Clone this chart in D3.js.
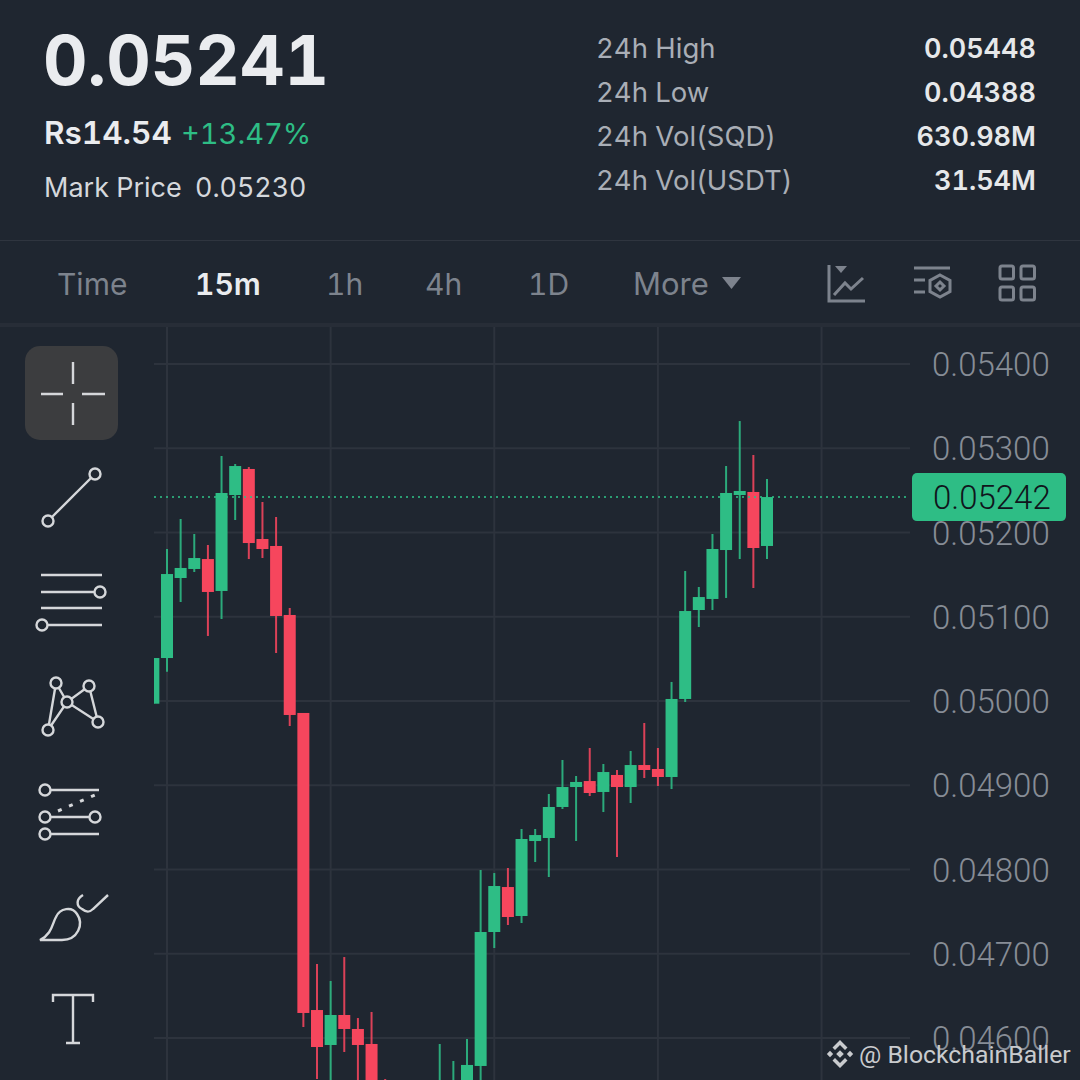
<!DOCTYPE html>
<html><head><meta charset="utf-8">
<script src="https://cdn.jsdelivr.net/npm/d3@7/dist/d3.min.js"></script>
<style>html,body{margin:0;padding:0;background:#1f2630;overflow:hidden}svg{display:block}text{font-variant-numeric:tabular-nums}</style>
</head><body><svg id="c" width="1080" height="1080"></svg>
<script>
// Prices in thousandths of a unit; null = candle lies wholly below the visible frame
const candleIndex = d3.range(0, 46);
const opens = [49.968,50.510,51.460,51.567,51.685,51.306,52.445,52.754,51.923,51.840,51.021,49.858,46.332,45.917,46.273,46.107,45.929,45.300,null,null,null,44.900,45.000,45.200,45.668,47.258,47.792,47.448,48.338,48.374,48.742,48.979,49.050,48.920,49.122,48.979,49.240,49.193,49.098,50.024,51.080,51.211,51.792,52.445,52.481,51.840];
const closes = [50.510,51.507,51.579,51.697,51.294,52.469,52.789,51.875,51.804,51.009,49.834,46.297,45.893,46.273,46.107,45.917,45.323,45.100,null,null,null,45.200,45.300,45.680,47.258,47.804,47.436,48.362,48.409,48.742,48.979,49.039,48.908,49.157,48.979,49.240,49.181,49.098,50.024,51.068,51.234,51.804,52.469,52.493,51.816,52.421];
const highs = [50.510,51.804,52.160,51.982,51.852,52.908,52.813,52.777,52.362,52.184,51.104,49.858,46.878,46.677,46.961,46.237,46.309,45.513,null,null,null,45.929,45.727,45.988,47.994,47.958,48.018,48.481,48.481,48.896,49.300,49.110,49.442,49.252,49.181,49.407,49.739,49.442,50.226,51.543,51.353,51.982,52.789,53.323,52.920,52.635];
const lows = [49.968,50.348,51.175,51.531,50.772,50.973,52.148,51.685,51.697,50.570,49.703,46.131,45.513,45.442,45.834,45.323,45.200,45.000,null,null,null,44.800,44.900,45.100,45.478,47.068,47.341,47.365,48.089,47.911,48.718,48.338,48.872,48.682,48.148,48.789,49.086,48.991,48.955,49.988,50.878,51.080,51.223,51.685,51.341,51.685];
const priceTicks = [54,53,52,51,50,49,48,47,46];
const timeGridIndex = [1,13,25,37,49];
const lastPrice = 52.42;
const lastPriceLabel = "0.05242";
const statLabels = ["24h High","24h Low","24h Vol(SQD)","24h Vol(USDT)"];
const statValues = ["0.05448","0.04388","630.98M","31.54M"];
const intervals = ["Time","15m","1h","4h","1D","More"];

const UP="#2ebd85", DOWN="#f6465d", BG="#1f2630", GRID="#2d333d";
const svg=d3.select("#c");
svg.append("rect").attr("width",1080).attr("height",1080).attr("fill",BG);
const SANS="Inter, 'Open Sans', sans-serif";

const x=d3.scaleLinear().domain([1,45]).range([167,767]);
const y=d3.scaleLinear().domain([46,54]).range([1038,364]);

// header
function txt(s,px,py,size,fill,weight,anchor,font){
  return svg.append("text").attr("x",px).attr("y",py).attr("font-size",size).attr("fill",fill)
   .attr("font-weight",weight||400).attr("text-anchor",anchor||"start").attr("font-family",font||SANS).text(s);
}
txt("0.05241",43,85,69,"#eaecef",700);
txt("Rs14.54",44,144,31.500,"#eaecef",600);
txt("+13.47%",181,144,29,UP,400);
txt("Mark Price",44,197,27,"#d5d8dc",400);
txt("0.05230",195,197,26.800,"#d5d8dc",400);
statLabels.forEach((s,i)=>{
  txt(s,596,58+44*i,27.500,"#a9aeb6",400);
  txt(statValues[i],1036,58+44*i,27,"#e6e8ea",600,"end");
});
svg.append("line").attr("x1",0).attr("x2",1080).attr("y1",240.5).attr("y2",240.5).attr("stroke","#2f353f").attr("stroke-width",1);

// interval toolbar
const intervalX=[57,195,326,425,528,633];
intervals.forEach((s,i)=>txt(s,intervalX[i],295,i==5?31:30,i==1?"#eaecef":"#7d838d",i==1?600:400));
svg.append("path").attr("d","M722,277H741L731.5,289Z").attr("fill","#7d838d");
svg.append("rect").attr("x",0).attr("y",323).attr("width",1080).attr("height",4).attr("fill","#272d37");

// top right icons
const ic=svg.append("g").attr("fill","none").attr("stroke","#7d838d").attr("stroke-width",3);
ic.append("path").attr("d","M829,265V301H865");
ic.append("path").attr("d","M835,266H847L841,273Z").attr("fill","#7d838d").attr("stroke","none");
ic.append("path").attr("d","M834,295L845,283L851,289L863,278");
ic.append("path").attr("d","M914,268H950M914,280H925M914,292H925");
ic.append("path").attr("d","M940,275L950,280.500V291.500L940,297L930,291.500V280.500Z");
ic.append("path").attr("d","M940,282L944,286L940,290L936,286Z");
[[1000,266],[1021,266],[1000,287],[1021,287]].forEach(p=>ic.append("rect").attr("x",p[0]).attr("y",p[1]).attr("width",13.500).attr("height",13).attr("rx",2));

// grid
const grid=svg.append("g").attr("stroke",GRID).attr("stroke-width",2);
grid.selectAll("line.v").data(timeGridIndex).join("line").attr("class","v")
  .attr("x1",d=>x(d)).attr("x2",d=>x(d)).attr("y1",327).attr("y2",1080);
grid.selectAll("line.h").data(priceTicks).join("line").attr("class","h")
  .attr("x1",154).attr("x2",910).attr("y1",d=>y(d)).attr("y2",d=>y(d));

// candles
svg.append("clipPath").attr("id","plot").append("rect").attr("x",154).attr("y",327).attr("width",756).attr("height",753);
const rows=candleIndex.map(i=>({i,o:opens[i],c:closes[i],h:highs[i],l:lows[i]})).filter(d=>d.o!==null);
const plot=svg.append("g").attr("clip-path","url(#plot)");
const color=d=>d.c>=d.o?UP:DOWN;
plot.selectAll("line.w").data(rows).join("line").attr("class","w")
  .attr("x1",d=>x(d.i)).attr("x2",d=>x(d.i)).attr("y1",d=>y(d.h)).attr("y2",d=>y(d.l))
  .attr("stroke",color).attr("stroke-width",2).attr("stroke-opacity",.88);
plot.selectAll("rect.b").data(rows).join("rect").attr("class","b")
  .attr("x",d=>x(d.i)-6).attr("width",12)
  .attr("y",d=>y(Math.max(d.o,d.c))).attr("height",d=>Math.abs(y(d.o)-y(d.c)))
  .attr("fill",color);

// last price
svg.append("line").attr("x1",154).attr("x2",910).attr("y1",y(lastPrice)).attr("y2",y(lastPrice))
  .attr("stroke",UP).attr("stroke-opacity",.8).attr("stroke-width",2).attr("stroke-dasharray","2 4");

// price axis
const axis=svg.append("g").attr("transform","translate(932,1)")
  .call(d3.axisRight(y).tickValues(priceTicks).tickSize(0).tickPadding(0).tickFormat(d=>d3.format(".5f")(d/1000)));
axis.select(".domain").remove();
axis.selectAll("text").attr("font-family","Roboto").attr("font-size",33).attr("fill","#878d96").attr("font-weight",300);

svg.append("rect").attr("x",912).attr("y",y(lastPrice)-24).attr("width",154).attr("height",48).attr("rx",5).attr("fill",UP);
svg.append("text").attr("x",933).attr("y",y(lastPrice)+12).attr("font-family","Roboto").attr("font-size",33).attr("font-weight",300).attr("fill","#10151c").text(lastPriceLabel);

// left tools
svg.append("rect").attr("x",25).attr("y",346).attr("width",93).attr("height",94).attr("rx",15).attr("fill","#3c3d3f");
const t=svg.append("g").attr("fill","none").attr("stroke","#d5d7da").attr("stroke-width",2.400);
const dot=(a,b,r=5.500)=>t.append("circle").attr("cx",a).attr("cy",b).attr("r",r).attr("fill",BG);
t.append("path").attr("d","M73,362V384M73,403V425M41,394H63M82,394H105");
t.append("path").attr("d","M48,521L95,474"); dot(48,521); dot(95,474);
t.append("path").attr("d","M41,575H102M41,592H100M41,608H102M42,625H102"); dot(100,592); dot(42,625);
t.append("path").attr("d","M56,683L67,702L98,722M89,686L67,702L48,730M56,683L48,730M89,686L98,722");
[[56,683],[89,686],[67,702],[48,730],[98,722]].forEach(p=>dot(p[0],p[1]));
t.append("path").attr("d","M45,790H99M45,817H95M45,834H99");
t.append("path").attr("d","M58,811L95,795").attr("stroke-dasharray","4 8").attr("stroke-width",3);
[[45,790],[45,817],[95,817],[45,834]].forEach(p=>dot(p[0],p[1]));
t.append("path").attr("d","M40,940C52,934 52,924 56,917C60,908 72,906 77,914C84,924 78,940 62,940Z");
t.append("path").attr("d","M83,895C76,899 76,906 82,909C87,913 90,912 93,909L108,895");
t.append("path").attr("d","M53,1002V995H93V1002M73,995V1043M66,1043H80");

// watermark
const wm=svg.append("g").attr("fill","#c9cbce");
[[830,1054,3.200],[850,1054,3.200],[840,1054,3.800]].forEach(p=>wm.append("path").attr("d",`M${p[0]-p[2]},${p[1]}L${p[0]},${p[1]-p[2]}L${p[0]+p[2]},${p[1]}L${p[0]},${p[1]+p[2]}Z`));
wm.append("path").attr("d","M840,1040L847.500,1047.500L845,1050L840,1045L835,1050L832.500,1047.500Z");
wm.append("path").attr("d","M840,1068L847.500,1060.500L845,1058L840,1063L835,1058L832.500,1060.500Z");
txt("@ BlockchainBaller",859,1063,24.800,"#c9cbce",400,"start","Roboto");
</script></body></html>
